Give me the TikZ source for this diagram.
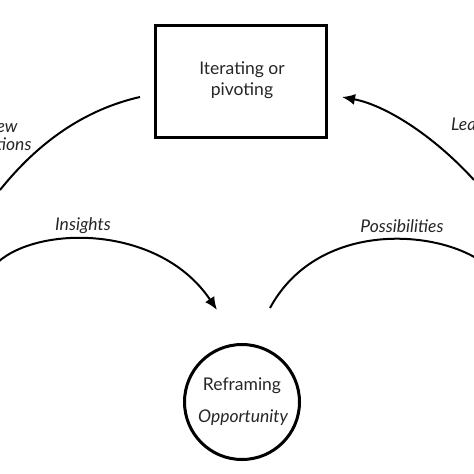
\documentclass[tikz,border=0pt]{standalone}
\usepackage{fontspec}
\setmainfont{Lato}
\usetikzlibrary{arrows.meta}
\begin{document}
\begin{tikzpicture}[x=1pt,y=-1pt,
  lbl/.style={font=\fontsize{17.5}{20}\selectfont, text=black!85, align=center, inner sep=0pt},
  ilbl/.style={lbl, font=\fontsize{17.5}{20}\selectfont\itshape},
  boxnode/.style={draw, line width=3pt, minimum width=171pt, minimum height=112pt, inner sep=0pt},
  circnode/.style={draw, circle, line width=3pt, minimum size=115pt, inner sep=0pt},
  flow/.style={line width=2pt},
  flowarrow/.style={flow, -{Latex[length=13pt,width=11pt]}}]
\useasboundingbox (0,0) rectangle (474,474);
\clip (0,0) rectangle (474,474);
\fill[white] (0,0) rectangle (474,474);
\node[boxnode] (box) at (241,81.5) {};
\node[lbl] (t1) at (242,70) {Iterating or};
\node[lbl] (t2) at (242,91) {pivoting};
\node[circnode] (circ) at (242,402) {};
\node[lbl] (c1) at (242,386) {Reframing};
\node[ilbl] (c2) at (243,418) {Opportunity};
\coordinate (la) at (0,190);
\coordinate (lb) at (140,97);
\coordinate (ra) at (474,180);
\coordinate (rb) at (342,97);
\coordinate (ba) at (-2,262);
\coordinate (bb) at (217,310);
\coordinate (ca) at (270,308);
\coordinate (cb) at (476,258);
\draw[flow] (la) .. controls (40,140) and (87,109) .. (lb);
\draw[flowarrow] (ra) .. controls (433,135) and (385,105) .. (rb);
\draw[flowarrow] (ba) .. controls (40,225) and (160,225) .. (bb);
\draw[flow] (ca) .. controls (315,225) and (425,228) .. (cb);
\node[ilbl] (nq1) at (1,126) {New};
\node[ilbl] (nq2) at (-3,146) {questions};
\node[ilbl, anchor=west] (le) at (451,126) {Learnings};
\node[ilbl] (ins) at (83,226) {Insights};
\node[ilbl] (pos) at (402,226) {Possibilities};
\end{tikzpicture}
\end{document}
